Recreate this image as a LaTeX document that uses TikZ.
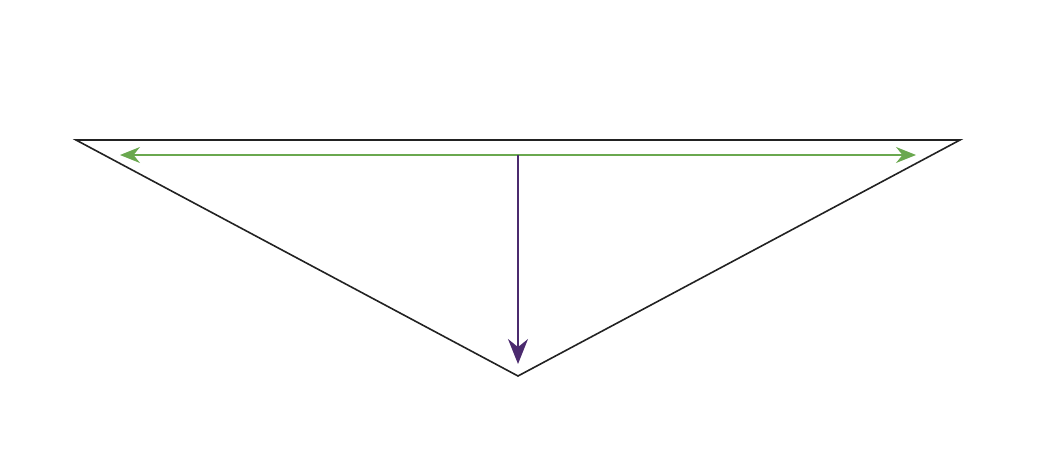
\documentclass[tikz,border=0pt]{standalone}
\usetikzlibrary{arrows.meta}
\definecolor{tri}{HTML}{222222}
\definecolor{grn}{HTML}{6AA84F}
\definecolor{prp}{HTML}{4B2A6E}
\begin{document}
\begin{tikzpicture}[x=1pt,y=-1pt,
  edge/.style={draw=tri,line width=1.6pt},
  garrow/.style={draw=grn,line width=1.6pt,{Stealth[length=20pt,width=16pt]}-{Stealth[length=20pt,width=16pt]}},
  parrow/.style={draw=prp,line width=1.6pt,-{Stealth[length=25pt,width=20pt]}}]
\useasboundingbox (0,0) rectangle (1050,450);
\coordinate (A) at (76,140);
\coordinate (B) at (960,140);
\coordinate (C) at (518,376);
\coordinate (gl) at (120,155);
\coordinate (gr) at (916,155);
\coordinate (pt) at (518,155);
\coordinate (pb) at (518,364);
\draw[edge,line join=miter] (A) -- (B) -- (C) -- cycle;
\draw[garrow] (gl) -- (gr);
\draw[parrow] (pt) -- (pb);
\end{tikzpicture}
\end{document}
